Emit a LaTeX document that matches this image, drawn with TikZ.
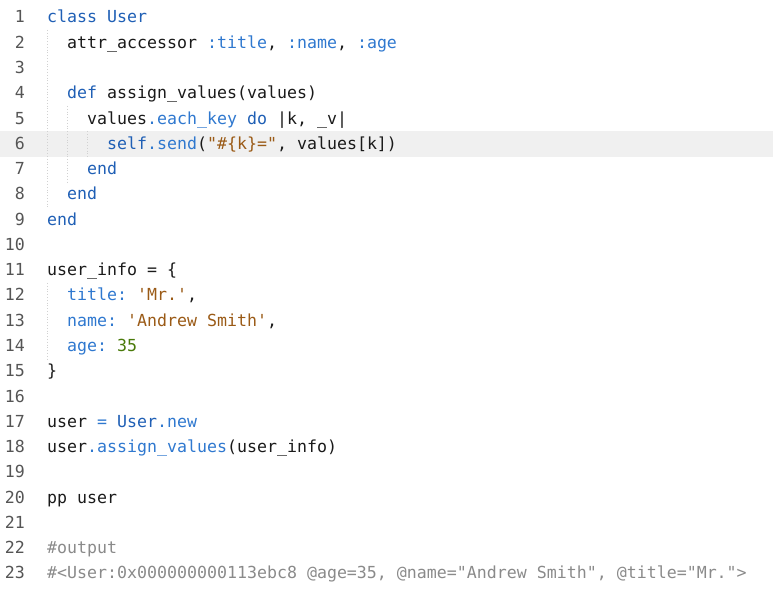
\documentclass[tikz,border=0pt]{standalone}
\usepackage{fontspec}
\setmonofont{DejaVu Sans Mono}
\definecolor{kw}{HTML}{1F5FB5}
\definecolor{sym}{HTML}{2F78CF}
\definecolor{str}{HTML}{9A5A16}
\definecolor{num}{HTML}{4A7A0A}
\definecolor{cmt}{HTML}{8A8A8A}
\definecolor{lnum}{HTML}{555555}
\definecolor{txt}{HTML}{1A1A1A}
\newcommand{\K}[1]{\textcolor{kw}{#1}}
\newcommand{\Sy}[1]{\textcolor{sym}{#1}}
\newcommand{\St}[1]{\textcolor{str}{#1}}
\newcommand{\Nm}[1]{\textcolor{num}{#1}}
\newcommand{\Cm}[1]{\textcolor{cmt}{#1}}
\begin{document}
\begin{tikzpicture}[x=1pt,y=1pt,
  code/.style={anchor=base west,inner sep=0pt,font=\ttfamily\fontsize{16.6}{18}\selectfont,text=txt},
  ln/.style={anchor=base east,inner sep=0pt,font=\ttfamily\fontsize{16.6}{18}\selectfont,text=lnum},
  guide/.style={draw=black!18,dotted,line width=0.8pt}]
\useasboundingbox (0,0) rectangle (773,610);
\fill[black!6] (0,610-131) rectangle (773,610-157);
\draw[guide] (47.5,610-30) -- (47.5,610-207);
\draw[guide] (67.5,610-106) -- (67.5,610-182);
\draw[guide] (87.5,610-131) -- (87.5,610-157);
\draw[guide] (47.5,610-283) -- (47.5,610-359);
\foreach \i in {1,...,23}{
  \node[ln] (n\i) at (25,{610-23-25.27*(\i-1)}) {\i};
}
\newcommand{\Y}[1]{610-23-25.27*(#1-1)}
\node[code] (l1) at (47,{\Y{1}}) {\K{class} \K{User}};
\node[code] (l2) at (47,{\Y{2}}) {\ \ attr\_accessor \Sy{:title}, \Sy{:name}, \Sy{:age}};
\node[code] (l4) at (47,{\Y{4}}) {\ \ \K{def} assign\_values(values)};
\node[code] (l5) at (47,{\Y{5}}) {\ \ \ \ values\Sy{.each\_key} \K{do} |k, \_v|};
\node[code] (l6) at (47,{\Y{6}}) {\ \ \ \ \ \ \K{self}\Sy{.send}(\St{"\#\{k\}="}, values[k])};
\node[code] (l7) at (47,{\Y{7}}) {\ \ \ \ \K{end}};
\node[code] (l8) at (47,{\Y{8}}) {\ \ \K{end}};
\node[code] (l9) at (47,{\Y{9}}) {\K{end}};
\node[code] (l11) at (47,{\Y{11}}) {user\_info = \{};
\node[code] (l12) at (47,{\Y{12}}) {\ \ \Sy{title:} \St{'Mr.'},};
\node[code] (l13) at (47,{\Y{13}}) {\ \ \Sy{name:} \St{'Andrew Smith'},};
\node[code] (l14) at (47,{\Y{14}}) {\ \ \Sy{age:} \Nm{35}};
\node[code] (l15) at (47,{\Y{15}}) {\}};
\node[code] (l17) at (47,{\Y{17}}) {user \Sy{=} \K{User}\Sy{.new}};
\node[code] (l18) at (47,{\Y{18}}) {user\Sy{.assign\_values}(user\_info)};
\node[code] (l20) at (47,{\Y{20}}) {pp user};
\node[code] (l22) at (47,{\Y{22}}) {\Cm{\#output}};
\node[code] (l23) at (47,{\Y{23}}) {\Cm{\#<User:0x000000000113ebc8 @age=35, @name="Andrew Smith", @title="Mr.">}};
\end{tikzpicture}
\end{document}
